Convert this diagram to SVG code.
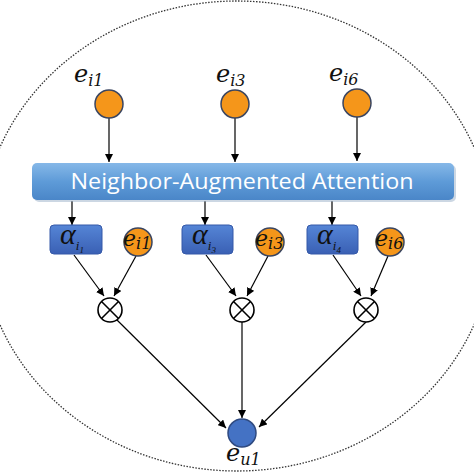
<svg xmlns="http://www.w3.org/2000/svg" width="474" height="474" viewBox="0 0 474 474">
<defs>
<marker id="ah" viewBox="0 0 10 10" refX="10" refY="5" markerWidth="8" markerHeight="8" markerUnits="userSpaceOnUse" orient="auto">
<path d="M0,0 L10,5 L0,10 z" fill="#000"/>
</marker>
<linearGradient id="barg" x1="0" y1="0" x2="0" y2="1">
<stop offset="0" stop-color="#86b8e8"/>
<stop offset="0.5" stop-color="#5e9bd8"/>
<stop offset="1" stop-color="#4a86c8"/>
</linearGradient>
<linearGradient id="boxg" x1="0" y1="0" x2="0" y2="1">
<stop offset="0" stop-color="#5585d6"/>
<stop offset="1" stop-color="#3a60b4"/>
</linearGradient>
<style>
.conn line{stroke:#000;stroke-width:1.2;fill:none}
.orange{fill:#f5961a;stroke:#3a4560;stroke-width:1.5}
.blue{fill:#4472c4;stroke:#2f4a80;stroke-width:1.5}
.math{font-family:"DejaVu Serif","Liberation Serif",serif;font-style:italic;fill:#111}
.alpha{font-family:"Liberation Serif","DejaVu Serif",serif;font-style:italic;fill:#111}
.box{fill:url(#boxg);stroke:#3558a8;stroke-width:1}
.ot circle{fill:#fff;stroke:#000;stroke-width:1.6}
.ot line{stroke:#000;stroke-width:1.6}
</style>
</defs>
<rect width="474" height="474" fill="#fff"/>
<ellipse cx="237" cy="236" rx="256" ry="235" fill="none" stroke="#333" stroke-width="1.3" stroke-dasharray="1.5,1.5"/>

<g class="conn">
<line x1="109" y1="118" x2="109" y2="162" marker-end="url(#ah)"/>
<line x1="235" y1="118" x2="235" y2="162" marker-end="url(#ah)"/>
<line x1="357" y1="117" x2="357" y2="161" marker-end="url(#ah)"/>
<line x1="72" y1="201" x2="72" y2="225" marker-end="url(#ah)"/>
<line x1="205" y1="201" x2="205" y2="225" marker-end="url(#ah)"/>
<line x1="332" y1="201" x2="332" y2="225" marker-end="url(#ah)"/>
<line x1="74" y1="255" x2="104" y2="296" marker-end="url(#ah)"/>
<line x1="136" y1="256" x2="114" y2="296" marker-end="url(#ah)"/>
<line x1="206" y1="255" x2="236" y2="296" marker-end="url(#ah)"/>
<line x1="268" y1="256" x2="247" y2="296" marker-end="url(#ah)"/>
<line x1="333" y1="255" x2="361" y2="296" marker-end="url(#ah)"/>
<line x1="388" y1="256" x2="371" y2="296" marker-end="url(#ah)"/>
<line x1="117" y1="320" x2="226" y2="428" marker-end="url(#ah)"/>
<line x1="242" y1="322" x2="242" y2="418" marker-end="url(#ah)"/>
<line x1="366" y1="322" x2="259" y2="427" marker-end="url(#ah)"/>
</g>

<g id="node-ei1-top">
<text class="math" x="74" y="82" font-size="24">e<tspan font-size="16" dy="4">i1</tspan></text>
<circle class="orange" cx="109" cy="104" r="14"/>
</g>
<g id="node-ei3-top">
<text class="math" x="216" y="82" font-size="24">e<tspan font-size="16" dy="4">i3</tspan></text>
<circle class="orange" cx="235" cy="104" r="14"/>
</g>
<g id="node-ei6-top">
<text class="math" x="329" y="81" font-size="24">e<tspan font-size="16" dy="4">i6</tspan></text>
<circle class="orange" cx="357" cy="103" r="14"/>
</g>

<g id="node-attention">
<rect x="34" y="165" width="422" height="37" rx="5" fill="#9ab0c8" opacity="0.5"/>
<rect x="32" y="163" width="422" height="37" rx="5" fill="url(#barg)"/>
<text x="242" y="189" text-anchor="middle" font-family="'Open Sans','Noto Sans',sans-serif" font-size="22" fill="#fff" textLength="343" lengthAdjust="spacingAndGlyphs">Neighbor-Augmented Attention</text>
</g>

<g id="node-alpha1">
<rect class="box" x="50" y="225" width="52" height="29" rx="4"/>
<text class="alpha" x="60" y="244" font-size="30">α<tspan font-size="13" dy="6">i</tspan><tspan font-size="9" dy="3">1</tspan></text>
</g>
<g id="node-alpha3">
<rect class="box" x="182" y="225" width="51" height="29" rx="4"/>
<text class="alpha" x="192" y="244" font-size="30">α<tspan font-size="13" dy="6">i</tspan><tspan font-size="9" dy="3">3</tspan></text>
</g>
<g id="node-alpha4">
<rect class="box" x="307" y="225" width="51" height="29" rx="4"/>
<text class="alpha" x="317" y="244" font-size="30">α<tspan font-size="13" dy="6">i</tspan><tspan font-size="9" dy="3">4</tspan></text>
</g>

<g id="node-ei1">
<circle class="orange" cx="138" cy="242" r="14"/>
<text class="math" x="123" y="246" font-size="22">e<tspan font-size="16" dy="3">i1</tspan></text>
</g>
<g id="node-ei3">
<circle class="orange" cx="270" cy="242" r="14"/>
<text class="math" x="255" y="246" font-size="22">e<tspan font-size="16" dy="3">i3</tspan></text>
</g>
<g id="node-ei6">
<circle class="orange" cx="390" cy="242" r="14"/>
<text class="math" x="375" y="246" font-size="22">e<tspan font-size="16" dy="3">i6</tspan></text>
</g>

<g id="node-otimes1" class="ot">
<circle cx="110" cy="310" r="12"/>
<line x1="101.5" y1="301.5" x2="118.5" y2="318.5"/>
<line x1="118.5" y1="301.5" x2="101.5" y2="318.5"/>
</g>
<g id="node-otimes2" class="ot">
<circle cx="242" cy="310" r="12"/>
<line x1="233.5" y1="301.5" x2="250.5" y2="318.5"/>
<line x1="250.5" y1="301.5" x2="233.5" y2="318.5"/>
</g>
<g id="node-otimes3" class="ot">
<circle cx="366" cy="310" r="12"/>
<line x1="357.5" y1="301.5" x2="374.5" y2="318.5"/>
<line x1="374.5" y1="301.5" x2="357.5" y2="318.5"/>
</g>

<g id="node-eu1">
<circle class="blue" cx="242" cy="433" r="14"/>
<text class="math" x="226" y="461" font-size="24">e<tspan font-size="16" dy="4">u1</tspan></text>
</g>
</svg>
